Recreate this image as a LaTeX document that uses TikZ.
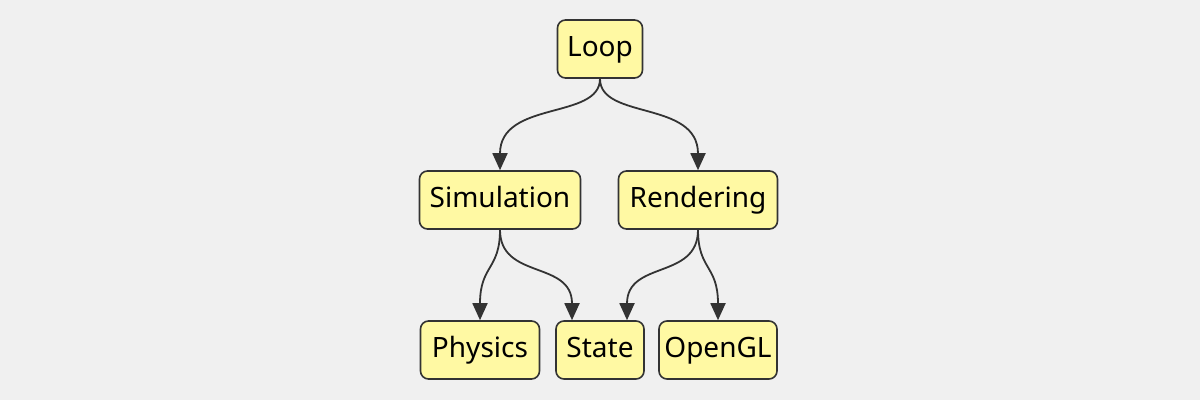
\documentclass[tikz,border=0pt]{standalone}
\usepackage{fontspec}
\setmainfont{Noto Sans}
\usetikzlibrary{arrows.meta}
\definecolor{bg}{HTML}{F0F0F0}
\definecolor{nodefill}{HTML}{FFF9A3}
\definecolor{edge}{HTML}{333333}
\begin{document}
\begin{tikzpicture}[x=1pt,y=-1pt,
  box/.style={draw=edge,line width=1.6pt,fill=nodefill,rounded corners=8pt,minimum height=58pt,inner sep=0pt,text height=20pt,text depth=6pt,font=\fontsize{28}{32}\selectfont},
  con/.style={draw=edge,line width=1.8pt,-{Triangle[length=17pt,width=15pt]}}]
\fill[bg] (0,0) rectangle (1200,400);
\useasboundingbox (0,0) rectangle (1200,400);
\node[box,minimum width=85pt] (loop) at (600,49) {Loop};
\node[box,minimum width=161pt] (sim) at (500,200) {Simulation};
\node[box,minimum width=159pt] (ren) at (698,200) {Rendering};
\node[box,minimum width=119pt] (phy) at (480,350) {Physics};
\node[box,minimum width=88pt] (sta) at (600,350) {State};
\node[box,minimum width=118pt] (ogl) at (718,350) {OpenGL};
\path[con] (loop.south) .. controls (600,120) and (500,100) .. (sim.north);
\path[con] (loop.south) .. controls (600,120) and (698,100) .. (ren.north);
\path[con] (sim.south) .. controls (500,270) and (480,265) .. (phy.north);
\path[con] (sim.south) .. controls (500,280) and (572,260) .. ([xshift=-28pt]sta.north);
\path[con] (ren.south) .. controls (698,280) and (627,260) .. ([xshift=27pt]sta.north);
\path[con] (ren.south) .. controls (698,270) and (718,265) .. (ogl.north);
\end{tikzpicture}
\end{document}
